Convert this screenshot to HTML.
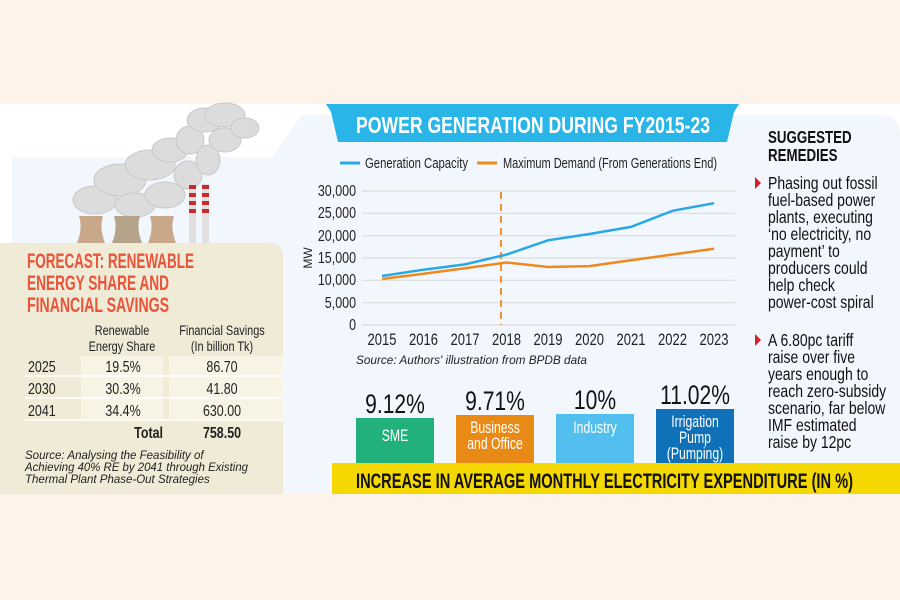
<!DOCTYPE html>
<html><head><meta charset="utf-8"><style>
body{margin:0;width:900px;height:600px;overflow:hidden;background:#fef3e8;font-family:"Liberation Sans",sans-serif;}
svg{position:absolute;left:0;top:0}
</style></head><body>
<svg width="900" height="600" viewBox="0 0 900 600" font-family="Liberation Sans, sans-serif">
<rect x="0" y="104" width="900" height="390" fill="#ffffff"/>
<path d="M12 157 L272 157 L302 115 L880 115 Q900 115 900 135 L900 494 L12 494 Z" fill="#f2f7fd"/>
<!-- smoke -->
<g fill="#dcdcdc" stroke="#c8c8c8" stroke-width="1">
<ellipse cx="95" cy="200" rx="22" ry="14"/><ellipse cx="120" cy="180" rx="26" ry="16"/><ellipse cx="150" cy="165" rx="25" ry="15"/>
<ellipse cx="170" cy="150" rx="18" ry="12"/><ellipse cx="135" cy="205" rx="20" ry="12"/><ellipse cx="165" cy="195" rx="20" ry="13"/>
<ellipse cx="188" cy="175" rx="14" ry="14"/><ellipse cx="190" cy="140" rx="14" ry="14"/><ellipse cx="205" cy="120" rx="18" ry="12"/>
<ellipse cx="225" cy="115" rx="20" ry="12"/><ellipse cx="208" cy="160" rx="12" ry="15"/><ellipse cx="225" cy="140" rx="16" ry="12"/><ellipse cx="245" cy="128" rx="14" ry="10"/>
</g>
<g fill="#c9a88a"><path d="M79 216h24q-4 12 2 27h-28q6-15 2-27z"/><path d="M114 216h26q-4 12 2 27h-30q6-15 2-27z" fill="#b6a48a"/><path d="M150 216h24q-4 12 2 27h-28q6-15 2-27z"/></g>
<rect x="189" y="184" width="7" height="60" fill="#e0e0e0"/><rect x="202" y="184" width="7" height="60" fill="#e0e0e0"/>
<g fill="#cc2a2a"><rect x="189" y="185" width="7" height="4"/><rect x="189" y="193" width="7" height="4"/><rect x="189" y="201" width="7" height="4"/><rect x="189" y="209" width="7" height="4"/>
<rect x="202" y="185" width="7" height="4"/><rect x="202" y="193" width="7" height="4"/><rect x="202" y="201" width="7" height="4"/><rect x="202" y="209" width="7" height="4"/></g>
<!-- left panel -->
<path d="M0 243 L268 243 Q283 243 283 258 L283 494 L0 494 Z" fill="#efebd6"/>
<g font-weight="bold" fill="#e8553a" font-size="21"><text x="27" y="268" textLength="167" lengthAdjust="spacingAndGlyphs">FORECAST: RENEWABLE</text><text x="27" y="290" textLength="142" lengthAdjust="spacingAndGlyphs">ENERGY SHARE AND</text><text x="27" y="312" textLength="142" lengthAdjust="spacingAndGlyphs">FINANCIAL SAVINGS</text></g>
<g font-size="14" fill="#222" text-anchor="middle">
<g transform="translate(122,0) scale(0.78,1)"><text x="0" y="335">Renewable</text><text x="0" y="351">Energy Share</text></g>
<g transform="translate(222,0) scale(0.78,1)"><text x="0" y="335">Financial Savings</text><text x="0" y="351">(In billion Tk)</text></g></g>
<g fill="#f7f4e6"><rect x="81" y="356" width="82" height="64"/><rect x="169" y="356" width="114" height="64"/></g>
<g stroke="#fff" stroke-width="1.5"><line x1="25" y1="376" x2="283" y2="376"/><line x1="25" y1="398" x2="283" y2="398"/><line x1="25" y1="420" x2="283" y2="420"/></g>
<g font-size="16" fill="#222">
<g transform="translate(28,0) scale(0.78,1)"><text x="0" y="372">2025</text><text x="0" y="394">2030</text><text x="0" y="416">2041</text></g>
<g text-anchor="middle" transform="translate(123,0) scale(0.78,1)"><text x="0" y="372">19.5%</text><text x="0" y="394">30.3%</text><text x="0" y="416">34.4%</text></g>
<g text-anchor="middle" transform="translate(222,0) scale(0.78,1)"><text x="0" y="372">86.70</text><text x="0" y="394">41.80</text><text x="0" y="416">630.00</text><text x="0" y="438" font-weight="bold">758.50</text></g>
<g text-anchor="end" transform="translate(163,0) scale(0.78,1)"><text x="0" y="438" font-weight="bold">Total</text></g></g>
<g font-size="11.5" font-style="italic" fill="#222"><text x="25" y="459">Source: Analysing the Feasibility of</text><text x="25" y="471" textLength="223" lengthAdjust="spacingAndGlyphs">Achieving 40% RE by 2041 through Existing</text><text x="25" y="483">Thermal Plant Phase-Out Strategies</text></g>
<!-- title banner -->
<path d="M326 104 L331 112 L338 142 L727 142 L734 112 L739 104 Z" fill="#29b5e8"/>
<text x="356" y="133" font-size="23" font-weight="bold" fill="#fff" textLength="354" lengthAdjust="spacingAndGlyphs">POWER GENERATION DURING FY2015-23</text>
<!-- legend -->
<line x1="340" y1="163" x2="360" y2="163" stroke="#29a8e6" stroke-width="3"/>
<text x="365" y="168" font-size="15" fill="#222" textLength="103" lengthAdjust="spacingAndGlyphs">Generation Capacity</text>
<line x1="477" y1="163" x2="497" y2="163" stroke="#ee8a1c" stroke-width="3"/>
<text x="503" y="168" font-size="15" fill="#222" textLength="214" lengthAdjust="spacingAndGlyphs">Maximum Demand (From Generations End)</text>
<!-- grid -->
<g stroke="#dcdcdc" stroke-width="1.2"><line x1="362" y1="191" x2="735" y2="191"/><line x1="362" y1="213.3" x2="735" y2="213.3"/><line x1="362" y1="235.7" x2="735" y2="235.7"/><line x1="362" y1="258" x2="735" y2="258"/><line x1="362" y1="280.3" x2="735" y2="280.3"/><line x1="362" y1="302.7" x2="735" y2="302.7"/><line x1="362" y1="325" x2="735" y2="325"/></g>
<g font-size="16" fill="#222" text-anchor="end" transform="translate(356,0) scale(0.78,1)"><text x="0" y="196">30,000</text><text x="0" y="218">25,000</text><text x="0" y="241">20,000</text><text x="0" y="263">15,000</text><text x="0" y="285">10,000</text><text x="0" y="308">5,000</text><text x="0" y="330">0</text></g>
<text x="0" y="0" font-size="12" fill="#222" transform="translate(312,258) rotate(-90)" text-anchor="middle">MW</text>
<g font-size="17" fill="#222" text-anchor="middle">
<text x="382" y="345" textLength="29" lengthAdjust="spacingAndGlyphs">2015</text><text x="423.5" y="345" textLength="29" lengthAdjust="spacingAndGlyphs">2016</text><text x="465" y="345" textLength="29" lengthAdjust="spacingAndGlyphs">2017</text><text x="506.5" y="345" textLength="29" lengthAdjust="spacingAndGlyphs">2018</text><text x="548" y="345" textLength="29" lengthAdjust="spacingAndGlyphs">2019</text><text x="589.5" y="345" textLength="29" lengthAdjust="spacingAndGlyphs">2020</text><text x="631" y="345" textLength="29" lengthAdjust="spacingAndGlyphs">2021</text><text x="672.5" y="345" textLength="29" lengthAdjust="spacingAndGlyphs">2022</text><text x="714" y="345" textLength="29" lengthAdjust="spacingAndGlyphs">2023</text></g>
<line x1="501" y1="192" x2="501" y2="325" stroke="#ee8a1c" stroke-width="1.8" stroke-dasharray="7,5"/>
<polyline fill="none" stroke="#29a8e6" stroke-width="2.5" points="382,276 423.5,269.7 465,264.4 506.5,254.6 548,240.3 589.5,234 631,226.9 672.5,210.8 714,203.2"/>
<polyline fill="none" stroke="#ee8a1c" stroke-width="2.5" points="382,279 423.5,273.7 465,268.3 506.5,262.5 548,267 589.5,266.1 631,260.3 672.5,254.5 714,248.7"/>
<text x="356" y="364" font-size="12" font-style="italic" fill="#222" textLength="231" lengthAdjust="spacingAndGlyphs">Source: Authors' illustration from BPDB data</text>
<!-- bars -->
<rect x="356" y="418" width="78" height="50" fill="#22b07c"/>
<rect x="456" y="415" width="78" height="53" fill="#e98a17"/>
<rect x="556" y="414" width="78" height="54" fill="#52bfee"/>
<rect x="656" y="409" width="78" height="59" fill="#0f72b9"/>
<g font-size="27" fill="#111" text-anchor="middle">
<g transform="translate(395,0) scale(0.78,1)"><text x="0" y="413">9.12%</text></g>
<g transform="translate(495,0) scale(0.78,1)"><text x="0" y="410">9.71%</text></g>
<g transform="translate(595,0) scale(0.78,1)"><text x="0" y="409">10%</text></g>
<g transform="translate(695,0) scale(0.78,1)"><text x="0" y="404">11.02%</text></g></g>
<g font-size="17" fill="#fff" text-anchor="middle">
<g transform="translate(395,0) scale(0.72,1)"><text x="0" y="441">SME</text></g>
<g transform="translate(495,0) scale(0.72,1)"><text x="0" y="433">Business</text><text x="0" y="449">and Office</text></g>
<g transform="translate(595,0) scale(0.72,1)"><text x="0" y="433">Industry</text></g>
<g transform="translate(695,0) scale(0.72,1)"><text x="0" y="427">Irrigation</text><text x="0" y="443">Pump</text><text x="0" y="459">(Pumping)</text></g></g>
<rect x="332" y="463" width="568" height="31" fill="#f5d800"/>
<text x="356" y="488" font-size="21" font-weight="bold" fill="#111" textLength="497" lengthAdjust="spacingAndGlyphs">INCREASE IN AVERAGE MONTHLY ELECTRICITY EXPENDITURE (IN %)</text>
<!-- remedies -->
<g font-size="18" font-weight="bold" fill="#111" transform="translate(768,0) scale(0.74,1)"><text x="0" y="143">SUGGESTED</text><text x="0" y="161">REMEDIES</text></g>
<path d="M755 177 L761 183 L755 189 Z" fill="#d4202a"/><path d="M755 334 L761 340 L755 346 Z" fill="#d4202a"/>
<g font-size="17.5" fill="#111" transform="translate(768,0) scale(0.8,1)"><text x="0" y="189">Phasing out fossil</text><text x="0" y="206">fuel-based power</text><text x="0" y="223">plants, executing</text><text x="0" y="240">‘no electricity, no</text><text x="0" y="257">payment’ to</text><text x="0" y="274">producers could</text><text x="0" y="291">help check</text><text x="0" y="308">power-cost spiral</text>
<text x="0" y="346">A 6.80pc tariff</text><text x="0" y="363">raise over five</text><text x="0" y="380">years enough to</text><text x="0" y="397">reach zero-subsidy</text><text x="0" y="414">scenario, far below</text><text x="0" y="431">IMF estimated</text><text x="0" y="448">raise by 12pc</text></g>
</svg>
</body></html>
